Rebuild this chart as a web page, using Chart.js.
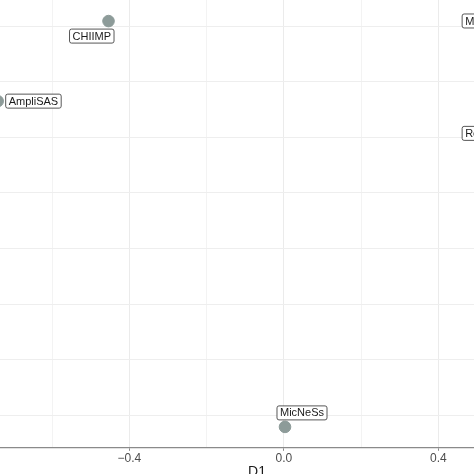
<!DOCTYPE html>
<html>
<head>
<meta charset="utf-8">
<script src="https://cdn.jsdelivr.net/npm/chart.js@4/dist/chart.umd.min.js"></script>
<style>
  html, body { margin: 0; padding: 0; width: 474px; height: 474px; overflow: hidden; background: #fff; }
  #wrap { position: absolute; left: -40px; top: -20px; width: 594px; height: 504px; }
</style>
</head>
<body>
<div id="wrap"><canvas id="grafico" width="594" height="504"></canvas></div>
<script>
// datos (D1 / D2)
const herramientas = ["CHIIMP", "AmpliSAS", "MicNeSs", "MEGASAT", "RepeatSeq"];
const valoresD1 = [-0.454, -0.741, 0.003, 0.63, 0.63];
const valoresD2 = [0.409, 0.265, -0.321, 0.411, 0.207];
const etiquetasX = [-0.4, 0.0, 0.4];

// desplazamiento de cada caja de texto respecto de su punto (px)
const desplazamientos = [[-39, 8], [8, -7], [-8, -21], [-65, -6], [-65, -7]];

const colorPunto = "#8d9b99";
const fuente = "'Liberation Sans', Arial, sans-serif";

const esMayor = (v) => etiquetasX.some((e) => Math.abs(e - v) < 1e-6) || Math.abs(v + 0.8) < 1e-6;

const pluginEtiquetas = {
  id: "etiquetas",
  afterDatasetsDraw(chart) {
    const ctx = chart.ctx;
    const meta = chart.getDatasetMeta(0);
    ctx.save();
    ctx.font = `11px ${fuente}`;
    ctx.textBaseline = "middle";
    meta.data.forEach((punto, i) => {
      const texto = herramientas[i];
      const [dx, dy] = desplazamientos[i];
      const ancho = ctx.measureText(texto).width + 6;
      const alto = 14;
      const x = punto.x + dx;
      const y = punto.y + dy;
      ctx.beginPath();
      ctx.roundRect(x, y, ancho, alto, 2);
      ctx.fillStyle = "#fff";
      ctx.fill();
      ctx.lineWidth = 0.9;
      ctx.strokeStyle = "#444";
      ctx.stroke();
      ctx.fillStyle = "#1a1a1a";
      ctx.fillText(texto, x + 3, y + alto / 2 + 0.5);
    });
    ctx.restore();
  },
};

new Chart(document.querySelector("#grafico"), {
  type: "scatter",
  data: {
    datasets: [{
      data: valoresD1.map((v, i) => ({ x: v, y: valoresD2[i] })),
      backgroundColor: colorPunto,
      borderColor: colorPunto,
      pointRadius: 5.8,
      pointHoverRadius: 5.8,
    }],
  },
  options: {
    responsive: false,
    animation: false,
    devicePixelRatio: 1,
    layout: { padding: 0, autoPadding: false },
    plugins: { legend: { display: false }, tooltip: { enabled: false } },
    scales: {
      x: {
        type: "linear",
        min: -0.836,
        max: 0.697,
        border: { display: true, color: "#8a8a8a", width: 1.3 },
        grid: {
          color: (c) => (esMayor(c.tick.value) ? "#ebebeb" : "#f3f3f3"),
          tickColor: (c) => (esMayor(c.tick.value) ? "#8a8a8a" : "rgba(0,0,0,0)"),
          tickLength: 3,
          drawTicks: true,
        },
        ticks: {
          stepSize: 0.2,
          autoSkip: false,
          maxRotation: 0,
          minRotation: 0,
          padding: 1,
          color: "#4d4d4d",
          font: { family: fuente, size: 12 },
          callback: (v) => {
            const e = etiquetasX.find((t) => Math.abs(t - v) < 1e-6);
            if (e === undefined) return "";
            return e < 0 ? "\u2212" + Math.abs(e).toFixed(1) : e.toFixed(1);
          },
        },
        title: {
          display: true,
          text: "D1",
          color: "#1a1a1a",
          font: { family: fuente, size: 14 },
          padding: { top: -3, bottom: 3 },
        },
      },
      y: {
        type: "linear",
        min: -0.3586,
        max: 0.4829,
        border: { display: false },
        grid: { color: "#eeeeee", drawTicks: false },
        ticks: { display: false, stepSize: 0.1 },
        afterFit: (escala) => { escala.width = 0; },
      },
    },
  },
  plugins: [pluginEtiquetas],
});
</script>
</body>
</html>
